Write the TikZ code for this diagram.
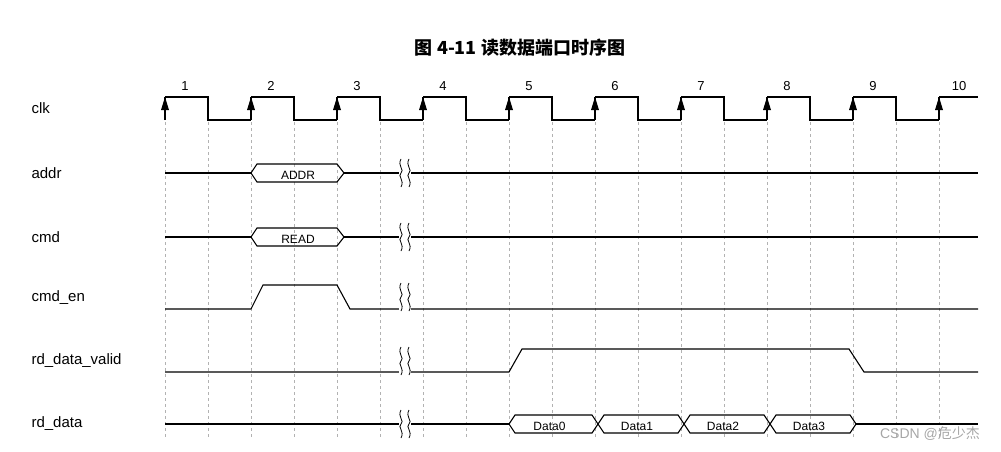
\documentclass[tikz,border=0pt]{standalone}
\usepackage{fontspec}
\setmainfont{Liberation Sans}
\newfontfamily\cjk{Noto Sans CJK SC}
\usetikzlibrary{arrows.meta}
\begin{document}
\begin{tikzpicture}[x=1pt,y=-1pt,
  sig/.style={line width=1.1pt,black},
  grid/.style={gray!60,dashed,line width=0.6pt},
  lab/.style={anchor=west,font=\fontsize{15}{17}\selectfont},
  num/.style={font=\fontsize{13}{15}\selectfont},
  bus/.style={font=\fontsize{12}{14}\selectfont},
  brk/.style={line width=0.8pt,black}]
\useasboundingbox (0,0) rectangle (1001,452);
\node[font=\cjk\bfseries\fontsize{18}{20}\selectfont] (title) at (520,48) {图 4-11 读数据端口时序图};
% labels
\node[lab] (lclk) at (28,108) {clk};
\node[lab] (laddr) at (28,173) {addr};
\node[lab] (lcmd) at (28,237) {cmd};
\node[lab] (len) at (28,298) {cmd\_en};
\node[lab] (lval) at (28,361) {rd\_data\_valid};
\node[lab] (ldat) at (28,424) {rd\_data};
% grid
\foreach \i in {0,...,9}{
  \draw[grid] (165+86*\i,122) -- (165+86*\i,437);
  \ifnum\i<9 \draw[grid] (208+86*\i,122) -- (208+86*\i,437);\fi
}
% clock
\foreach \i in {0,...,9}{
  \pgfmathsetmacro\xa{165+86*\i}
  \pgfmathsetmacro\xb{208+86*\i}
  \pgfmathsetmacro\xc{251+86*\i}
  \draw[sig] (\xa,120) -- (\xa,97);
  \fill (\xa,97) -- (\xa-4,110) -- (\xa+4,110) -- cycle;
  \node[num] (n\i) at (\xa+20,86) {\the\numexpr\i+1\relax};
  \ifnum\i<9
    \draw[sig] (\xa,97) -- (\xb,97) -- (\xb,120) -- (\xc,120);
  \else
    \draw[sig] (\xa,97) -- (978,97);
  \fi
}
% addr / cmd
\foreach \y/\t in {173/ADDR,237/READ}{
  \draw[sig] (165,\y) -- (251,\y);
  \draw[sig] (251,\y) -- (257,\y-9) -- (337,\y-9) -- (344,\y) -- (337,\y+9) -- (257,\y+9) -- cycle;
  \node[bus] at (298,\y+2) {\t};
  \draw[sig] (344,\y) -- (978,\y);
}
% cmd_en
\draw[sig] (165,309) -- (251,309) -- (263,285) -- (337,285) -- (350,309) -- (978,309);
% valid
\draw[sig] (165,372) -- (509,372) -- (522,349) -- (849,349) -- (864,372) -- (978,372);
% rd_data
\draw[sig] (165,424) -- (509,424);
\foreach \a/\b/\t in {509/598/Data0,598/684/Data1,684/770/Data2,770/856/Data3}{
  \draw[sig] (\a,424) -- (\a+6,415) -- (\b-6,415) -- (\b,424) -- (\b-6,433) -- (\a+6,433) -- cycle;
  \node[bus] at ({(\a+\b)/2-4},426) {\t};
}
\draw[sig] (856,424) -- (978,424);
% breaks
\foreach \y in {173,237,297,361,424}{
  \fill[white] (399,\y-14) rectangle (411,\y+14);
  \foreach \dx in {401,409}{
    \draw[brk] (\dx,\y-14) .. controls (\dx-4,\y-7) and (\dx+4,\y-3) .. (\dx,\y) .. controls (\dx-4,\y+3) and (\dx+4,\y+7) .. (\dx,\y+14);
  }
}
\node[text=gray!70,font=\fontsize{14}{16}\selectfont] (wm) at (930,434) {CSDN @{\cjk 危少杰}};
\end{tikzpicture}
\end{document}
